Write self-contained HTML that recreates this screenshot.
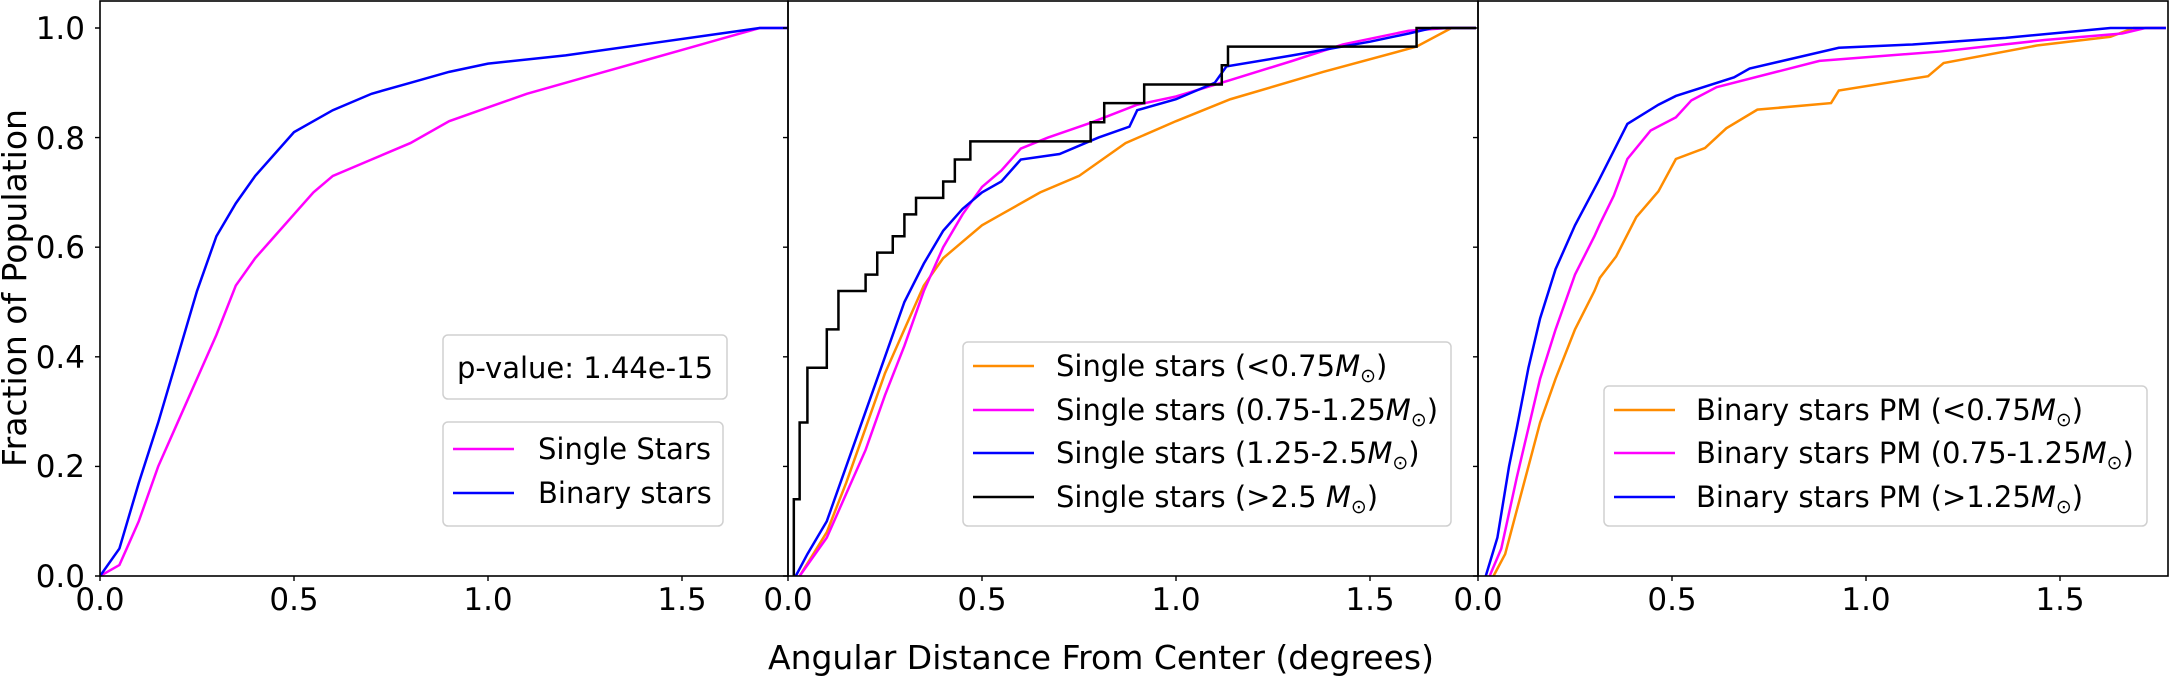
<!DOCTYPE html>
<html><head><meta charset="utf-8"><style>
body{margin:0;background:#fff}
svg{display:block}
text{font-family:"DejaVu Sans","Liberation Sans",sans-serif;fill:#000}
.c{fill:none;stroke-width:2.5;vector-effect:non-scaling-stroke;stroke-linejoin:miter}
.t{font-size:31px}
.a{font-size:33px}
.l{font-size:29px}
</style></head><body>
<svg width="2171" height="679" viewBox="0 0 2171 679" xmlns="http://www.w3.org/2000/svg">
<defs><clipPath id="cp"><rect x="0" y="-0.01" width="1.773" height="1.07"/></clipPath></defs>

<g transform="translate(100,576) scale(388,-548)" clip-path="url(#cp)">
<polyline class="c" stroke="#ff00ff" points="0,0 0.05,0.02 0.1,0.1 0.15,0.2 0.2,0.28 0.25,0.36 0.3,0.44 0.35,0.53 0.4,0.58 0.45,0.62 0.5,0.66 0.55,0.7 0.6,0.73 0.7,0.76 0.8,0.79 0.9,0.83 1.0,0.855 1.1,0.88 1.2,0.9 1.3,0.92 1.4,0.94 1.5,0.96 1.6,0.98 1.7,1.0 1.8,1.0"/>
<polyline class="c" stroke="#0000ff" points="0,0 0.05,0.05 0.1,0.17 0.15,0.28 0.2,0.4 0.25,0.52 0.3,0.62 0.35,0.68 0.4,0.73 0.5,0.81 0.6,0.85 0.7,0.88 0.8,0.9 0.9,0.92 1.0,0.935 1.2,0.95 1.4,0.97 1.6,0.99 1.7,1.0 1.8,1.0"/>
</g>
<g transform="translate(788,576) scale(388,-548)" clip-path="url(#cp)">
<polyline class="c" stroke="#ff8c00" points="0.03,0 0.1,0.08 0.15,0.17 0.2,0.27 0.25,0.37 0.3,0.45 0.35,0.53 0.4,0.58 0.45,0.61 0.5,0.64 0.55,0.66 0.65,0.7 0.75,0.73 0.87,0.79 1.0,0.83 1.14,0.87 1.38,0.92 1.62,0.966 1.71,1.0 1.8,1.0"/>
<polyline class="c" stroke="#ff00ff" points="0.03,0 0.1,0.07 0.15,0.15 0.2,0.23 0.25,0.33 0.3,0.42 0.35,0.52 0.4,0.6 0.45,0.66 0.5,0.71 0.55,0.74 0.6,0.78 0.67,0.8 0.78,0.827 0.9,0.86 1.0,0.875 1.14,0.905 1.3,0.94 1.43,0.97 1.6,0.995 1.7,1.0 1.8,1.0"/>
<polyline class="c" stroke="#0000ff" points="0.02,0 0.05,0.04 0.1,0.1 0.15,0.2 0.2,0.3 0.25,0.4 0.3,0.5 0.35,0.57 0.4,0.63 0.45,0.67 0.5,0.7 0.55,0.72 0.6,0.76 0.7,0.77 0.8,0.8 0.88,0.82 0.9,0.85 1.0,0.87 1.1,0.9 1.13,0.93 1.3,0.95 1.5,0.975 1.6,0.99 1.66,1.0 1.8,1.0"/>
<polyline class="c" stroke="#000" points="0.015,0 0.015,0.14 0.03,0.14 0.03,0.28 0.05,0.28 0.05,0.38 0.1,0.38 0.1,0.45 0.13,0.45 0.13,0.52 0.2,0.52 0.2,0.55 0.23,0.55 0.23,0.59 0.27,0.59 0.27,0.62 0.3,0.62 0.3,0.66 0.33,0.66 0.33,0.69 0.4,0.69 0.4,0.72 0.43,0.72 0.43,0.76 0.47,0.76 0.47,0.793 0.78,0.793 0.78,0.828 0.815,0.828 0.815,0.863 0.918,0.863 0.918,0.897 1.118,0.897 1.118,0.932 1.134,0.932 1.134,0.966 1.62,0.966 1.62,1.0 1.8,1.0"/>
</g>
<g transform="translate(1478,576) scale(388,-548)" clip-path="url(#cp)">
<polyline class="c" stroke="#ff8c00" points="0.04,0 0.07,0.04 0.1,0.12 0.13,0.2 0.16,0.28 0.2,0.36 0.25,0.45 0.3,0.52 0.314,0.544 0.356,0.583 0.408,0.655 0.465,0.702 0.51,0.761 0.585,0.781 0.64,0.817 0.72,0.851 0.91,0.863 0.93,0.886 1.16,0.912 1.2,0.936 1.44,0.968 1.63,0.984 1.69,1.0 1.8,1.0"/>
<polyline class="c" stroke="#ff00ff" points="0.03,0 0.06,0.05 0.1,0.18 0.13,0.27 0.16,0.36 0.2,0.45 0.25,0.55 0.3,0.62 0.314,0.642 0.35,0.694 0.385,0.761 0.445,0.813 0.51,0.837 0.55,0.868 0.615,0.892 0.88,0.94 1.19,0.957 1.46,0.978 1.66,0.99 1.72,1.0 1.8,1.0"/>
<polyline class="c" stroke="#0000ff" points="0.02,0 0.05,0.07 0.08,0.2 0.1,0.27 0.13,0.38 0.16,0.47 0.2,0.56 0.25,0.64 0.31,0.72 0.385,0.825 0.465,0.86 0.51,0.876 0.66,0.91 0.7,0.926 0.93,0.964 1.12,0.97 1.36,0.982 1.63,1.0 1.8,1.0"/>
</g>

<g fill="none" stroke="#000" stroke-width="1.6">
<rect x="100" y="1" width="688" height="575"/>
<rect x="788" y="1" width="690" height="575"/>
<rect x="1478" y="1" width="690" height="575"/>
</g>
<g stroke="#000" stroke-width="1.4">
<path d="M95,576H100M95,466.4H100M95,356.8H100M95,247.2H100M95,137.6H100M95,28H100"/>
<path d="M783,576H788M783,466.4H788M783,356.8H788M783,247.2H788M783,137.6H788M783,28H788"/>
<path d="M1473,576H1478M1473,466.4H1478M1473,356.8H1478M1473,247.2H1478M1473,137.6H1478M1473,28H1478"/>
<path d="M100,576V581M294,576V581M488,576V581M682,576V581"/>
<path d="M788,576V581M982,576V581M1176,576V581M1370,576V581"/>
<path d="M1478,576V581M1672,576V581M1866,576V581M2060,576V581"/>
</g>
<g class="t" text-anchor="end">
<text x="85" y="587">0.0</text><text x="85" y="477">0.2</text><text x="85" y="368">0.4</text>
<text x="85" y="258">0.6</text><text x="85" y="149">0.8</text><text x="85" y="39">1.0</text>
</g>
<g class="t" text-anchor="middle">
<text x="100" y="610">0.0</text><text x="294" y="610">0.5</text><text x="488" y="610">1.0</text><text x="682" y="610">1.5</text>
<text x="788" y="610">0.0</text><text x="982" y="610">0.5</text><text x="1176" y="610">1.0</text><text x="1370" y="610">1.5</text>
<text x="1478" y="610">0.0</text><text x="1672" y="610">0.5</text><text x="1866" y="610">1.0</text><text x="2060" y="610">1.5</text>
</g>
<text class="a" x="1101" y="669" text-anchor="middle">Angular Distance From Center (degrees)</text>
<text class="a" transform="translate(26,288) rotate(-90)" text-anchor="middle">Fraction of Population</text>

<g fill="#fff" fill-opacity="0.85" stroke="#d0d0d0" stroke-width="1.5">
<rect x="443" y="335" width="284" height="64" rx="5"/>
<rect x="443" y="422" width="280" height="104" rx="5"/>
<rect x="963" y="342" width="488" height="184" rx="5"/>
<rect x="1604" y="386" width="543" height="140" rx="5"/>
</g>
<text class="l" x="585" y="378" text-anchor="middle">p-value: 1.44e-15</text>
<g stroke-width="2.5">
<line x1="453" y1="449" x2="514" y2="449" stroke="#ff00ff"/>
<line x1="453" y1="493" x2="514" y2="493" stroke="#0000ff"/>
<line x1="973" y1="366" x2="1034" y2="366" stroke="#ff8c00"/>
<line x1="973" y1="410" x2="1034" y2="410" stroke="#ff00ff"/>
<line x1="973" y1="453" x2="1034" y2="453" stroke="#0000ff"/>
<line x1="973" y1="497" x2="1034" y2="497" stroke="#000"/>
<line x1="1614" y1="410" x2="1675" y2="410" stroke="#ff8c00"/>
<line x1="1614" y1="453" x2="1675" y2="453" stroke="#ff00ff"/>
<line x1="1614" y1="497" x2="1675" y2="497" stroke="#0000ff"/>
</g>
<g class="l">
<text x="538" y="459">Single Stars</text>
<text x="538" y="503">Binary stars</text>
<text x="1056" y="376">Single stars (&lt;0.75<tspan font-style="italic">M</tspan><tspan font-size="19" dy="6">⊙</tspan><tspan dy="-6">)</tspan></text>
<text x="1056" y="420">Single stars (0.75-1.25<tspan font-style="italic">M</tspan><tspan font-size="19" dy="6">⊙</tspan><tspan dy="-6">)</tspan></text>
<text x="1056" y="463">Single stars (1.25-2.5<tspan font-style="italic">M</tspan><tspan font-size="19" dy="6">⊙</tspan><tspan dy="-6">)</tspan></text>
<text x="1056" y="507">Single stars (&gt;2.5 <tspan font-style="italic">M</tspan><tspan font-size="19" dy="6">⊙</tspan><tspan dy="-6">)</tspan></text>
<text x="1696" y="420">Binary stars PM (&lt;0.75<tspan font-style="italic">M</tspan><tspan font-size="19" dy="6">⊙</tspan><tspan dy="-6">)</tspan></text>
<text x="1696" y="463">Binary stars PM (0.75-1.25<tspan font-style="italic">M</tspan><tspan font-size="19" dy="6">⊙</tspan><tspan dy="-6">)</tspan></text>
<text x="1696" y="507">Binary stars PM (&gt;1.25<tspan font-style="italic">M</tspan><tspan font-size="19" dy="6">⊙</tspan><tspan dy="-6">)</tspan></text>
</g>
</svg>
</body></html>
